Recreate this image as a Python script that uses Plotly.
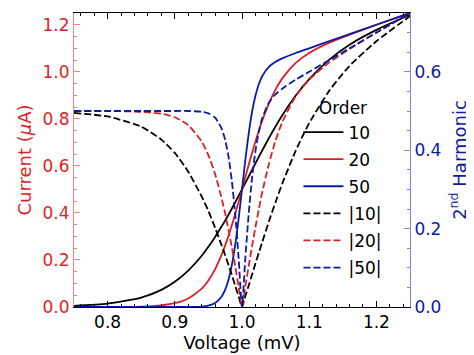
import plotly.graph_objects as go

voltage = [0.75, 0.80, 0.85, 0.88, 0.90, 0.92, 0.94, 0.95, 0.96, 0.97, 0.975, 0.98, 0.985,
           0.99, 0.995, 1.00, 1.005, 1.01, 1.015, 1.02, 1.025, 1.03, 1.04, 1.05, 1.06,
           1.08, 1.10, 1.13, 1.16, 1.20, 1.25]

current_10 = [0.005, 0.014, 0.040, 0.073, 0.107, 0.155, 0.218, 0.256, 0.298, 0.344, 0.368,
              0.393, 0.419, 0.446, 0.473, 0.500, 0.528, 0.555, 0.583, 0.611, 0.638, 0.665,
              0.718, 0.768, 0.815, 0.899, 0.969, 1.052, 1.115, 1.178, 1.242]
current_20 = [0.000, 0.000, 0.002, 0.007, 0.016, 0.036, 0.078, 0.113, 0.161, 0.225, 0.262,
              0.304, 0.349, 0.397, 0.448, 0.500, 0.553, 0.605, 0.655, 0.704, 0.749, 0.792,
              0.865, 0.925, 0.972, 1.038, 1.080, 1.124, 1.158, 1.200, 1.250]
current_50 = [0.000, 0.000, 0.000, 0.000, 0.000, 0.000, 0.002, 0.006, 0.017, 0.046, 0.074,
              0.117, 0.180, 0.266, 0.376, 0.500, 0.626, 0.738, 0.830, 0.898, 0.947, 0.981,
              1.021, 1.043, 1.057, 1.080, 1.100, 1.130, 1.160, 1.200, 1.250]

harm_10 = [0.495, 0.486, 0.460, 0.427, 0.393, 0.345, 0.282, 0.245, 0.202, 0.156, 0.132,
           0.107, 0.081, 0.054, 0.027, 0.000, 0.028, 0.055, 0.083, 0.111, 0.138, 0.165,
           0.218, 0.268, 0.315, 0.399, 0.469, 0.552, 0.615, 0.678, 0.742]
harm_20 = [0.500, 0.500, 0.498, 0.493, 0.484, 0.464, 0.422, 0.387, 0.339, 0.275, 0.238,
           0.196, 0.151, 0.103, 0.052, 0.000, 0.053, 0.105, 0.155, 0.204, 0.249, 0.292,
           0.365, 0.425, 0.472, 0.538, 0.580, 0.624, 0.658, 0.700, 0.750]
harm_50 = [0.500, 0.500, 0.500, 0.500, 0.500, 0.500, 0.498, 0.494, 0.483, 0.454, 0.426,
           0.383, 0.320, 0.234, 0.124, 0.000, 0.126, 0.238, 0.330, 0.398, 0.447, 0.481,
           0.521, 0.543, 0.557, 0.580, 0.600, 0.630, 0.660, 0.700, 0.750]

labels = ["10", "20", "50", "|10|", "|20|", "|50|"]

BLACK = "#000000"
RED = "#dc1f26"
BLUE = "#0c1ba3"
FONT = "DejaVu Sans"

fig = go.Figure()
solid = [(current_10, BLACK), (current_20, RED), (current_50, BLUE)]
dashed = [(harm_10, BLACK), (harm_20, RED), (harm_50, BLUE)]

for i, (ys, col) in enumerate(solid):
    fig.add_trace(go.Scatter(x=voltage, y=ys, mode="lines", name=labels[i],
                             legendgroup=labels[i],
                             line=dict(color=col, width=1.8, shape="spline", smoothing=0.6),
                             yaxis="y"))
for i, (ys, col) in enumerate(dashed):
    fig.add_trace(go.Scatter(x=voltage, y=ys, mode="lines", name=labels[i + 3],
                             legendgroup=labels[i + 3],
                             line=dict(color=col, width=1.8, dash="7px,3px",
                                       shape="spline", smoothing=0.6),
                             yaxis="y2"))

fig.update_layout(
    width=474, height=355,
    margin=dict(l=66, r=72, t=5, b=56),
    paper_bgcolor="white", plot_bgcolor="white",
    font=dict(family=FONT, size=17, color="black"),
    showlegend=True,
    legend=dict(
        x=0.668, y=0.73, xanchor="left", yanchor="top",
        bgcolor="rgba(0,0,0,0)", borderwidth=0,
        font=dict(family=FONT, size=17, color="black"),
        title=dict(text="Order", side="top center", font=dict(family=FONT, size=17)),
        tracegroupgap=2, itemwidth=40,
    ),
    xaxis=dict(
        range=[0.75, 1.25], dtick=0.1, tick0=0.8, tickformat=".1f",
        showgrid=False, zeroline=False,
        showline=True, linecolor="black", linewidth=1, mirror="ticks",
        ticks="inside", ticklen=6, tickcolor="black",
        minor=dict(ticks="inside", dtick=0.02, ticklen=3, tickcolor="black"),
        tickfont=dict(family=FONT, size=17, color="black"),
        title=dict(text="Voltage (mV)", font=dict(family=FONT, size=18, color="black"),
                   standoff=2),
    ),
    yaxis=dict(
        range=[0, 1.25], dtick=0.2, tickformat=".1f",
        showgrid=False, zeroline=False,
        showline=True, linecolor="#e58a8a", linewidth=1,
        ticks="inside", ticklen=6, tickcolor="#e58a8a",
        minor=dict(ticks="inside", dtick=0.05, ticklen=3, tickcolor="#e58a8a"),
        tickfont=dict(family=FONT, size=17, color=RED),
        title=dict(text="Current (<i>\u03bc</i>A)", font=dict(family=FONT, size=18, color=RED),
                   standoff=6),
    ),
    yaxis2=dict(
        range=[0, 0.75], dtick=0.2, tickformat=".1f",
        overlaying="y", side="right",
        showgrid=False, zeroline=False,
        showline=True, linecolor="#7f86d0", linewidth=1,
        ticks="inside", ticklen=6, tickcolor="#7f86d0",
        minor=dict(ticks="inside", dtick=0.05, ticklen=3, tickcolor="#7f86d0"),
        tickfont=dict(family=FONT, size=17, color=BLUE),
        title=dict(text="2<sup>nd</sup> Harmonic", font=dict(family=FONT, size=18, color=BLUE),
                   standoff=12),
    ),
)

fig.write_html("out.html")
